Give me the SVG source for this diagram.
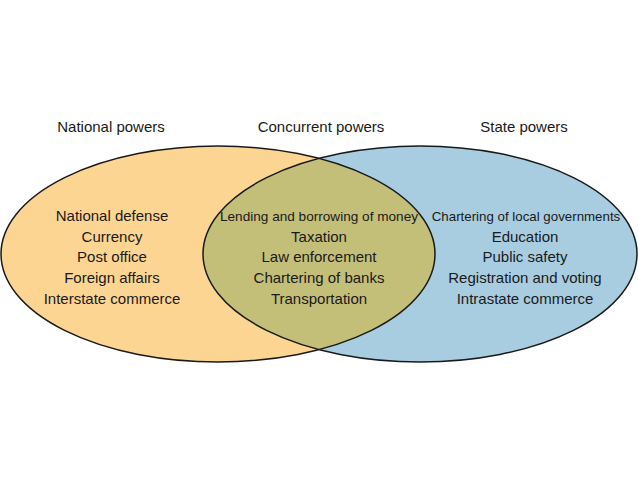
<svg xmlns="http://www.w3.org/2000/svg" width="638" height="479" viewBox="0 0 638 479">
<style>
text{font-family:"Liberation Sans",Arial,sans-serif;font-size:15px;fill:#1a1a1a;text-anchor:middle}
.edge{fill:none;stroke:#1a1a1a;stroke-width:1.5}
.narrow{font-size:13.6px}
</style>
<defs>
<clipPath id="clipL"><ellipse cx="218" cy="254" rx="217" ry="108"/></clipPath>
</defs>
<rect width="638" height="479" fill="#ffffff"/>
<g id="national">
<ellipse cx="218" cy="254" rx="217" ry="108" fill="#FDD592"/>
</g>
<g id="state">
<ellipse cx="420" cy="254" rx="217" ry="108" fill="#A8CDE1"/>
</g>
<g id="concurrent">
<ellipse cx="420" cy="254" rx="217" ry="108" fill="#C4BF78" clip-path="url(#clipL)"/>
</g>
<ellipse class="edge" cx="218" cy="254" rx="217" ry="108"/>
<ellipse class="edge" cx="420" cy="254" rx="217" ry="108"/>
<g id="national-text">
<text x="111" y="132">National powers</text>
<text x="112" y="221">National defense</text>
<text x="112" y="242">Currency</text>
<text x="112" y="262">Post office</text>
<text x="112" y="283">Foreign affairs</text>
<text x="112" y="304">Interstate commerce</text>
</g>
<g id="concurrent-text">
<text x="321" y="132">Concurrent powers</text>
<text class="narrow" x="319" y="221">Lending and borrowing of money</text>
<text x="319" y="242">Taxation</text>
<text x="319" y="262">Law enforcement</text>
<text x="319" y="283">Chartering of banks</text>
<text x="319" y="304">Transportation</text>
</g>
<g id="state-text">
<text x="524" y="132">State powers</text>
<text class="narrow" x="526" y="221" style="font-size:13.3px">Chartering of local governments</text>
<text x="525" y="242">Education</text>
<text x="525" y="262">Public safety</text>
<text x="525" y="283">Registration and voting</text>
<text x="525" y="304">Intrastate commerce</text>
</g>
<g id="connectors"/>
</svg>
